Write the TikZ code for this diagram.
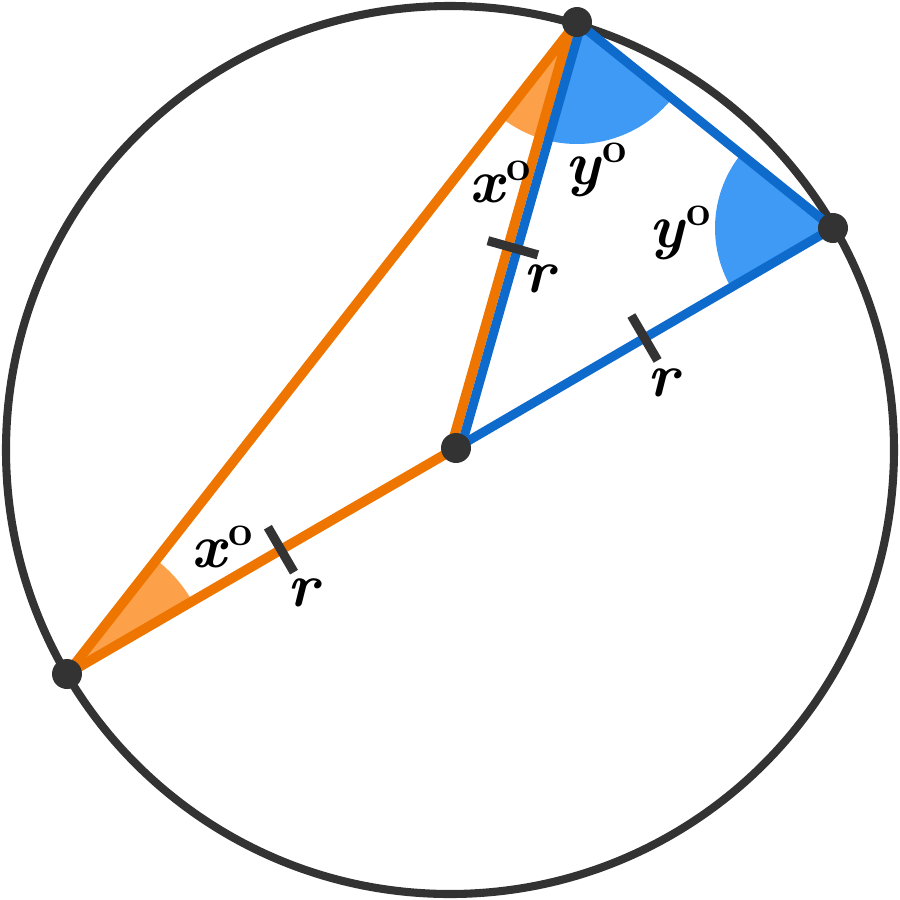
\documentclass[tikz,border=0pt]{standalone}
\usetikzlibrary{calc}
\definecolor{ringgray}{HTML}{333333}
\definecolor{orangeline}{HTML}{EE7600}
\definecolor{orangefill}{HTML}{FCA14A}
\definecolor{blueline}{HTML}{0E6BCB}
\definecolor{bluefill}{HTML}{3E9AF5}
\newcommand{\anglab}[1]{\textbf{\textit{#1}}\textsuperscript{\textbf{o}}}

\begin{document}
\begin{tikzpicture}[
    ring/.style={draw=ringgray, line width=2.3pt},
    oside/.style={draw=orangeline, line width=2.8pt},
    bside/.style={draw=blueline, line width=2.6pt},
    tick/.style={draw=ringgray, line width=2.6pt},
    lab/.style={font=\fontsize{17.5}{20}\selectfont, inner sep=0pt}
  ]
      \useasboundingbox (0,0) rectangle (9,-9);

      % points
      \coordinate (M) at (4.50,-4.50);
      \coordinate (O) at (4.56,-4.48);
      \coordinate (A) at (5.77,-0.22);
      \coordinate (B) at (8.33,-2.28);
      \coordinate (C) at (0.67,-6.74);

      \draw[ring] (M) circle [radius=4.44];

      % angle wedges
      \fill[orangefill] (C) -- ++(30.16:1.45) arc [start angle=30.16, end angle=51.97, radius=1.45] -- cycle;
      \fill[orangefill] (A) -- ++(231.97:1.22) arc [start angle=231.97, end angle=254.14, radius=1.22] -- cycle;
      \fill[bluefill] (A) -- ++(254.14:1.22) arc [start angle=254.14, end angle=321.17, radius=1.22] -- cycle;
      \fill[bluefill] (B) -- ++(141.17:1.18) arc [start angle=141.17, end angle=210.27, radius=1.18] -- cycle;

      % sides
      \draw[oside] (C) -- (A);
      \draw[oside] (C) -- (O);
      \draw[oside] ($(O)+(-0.047,0.013)$) -- ($(A)+(-0.047,0.013)$);
      \draw[bside] ($(O)+(0.045,-0.013)$) -- ($(A)+(0.045,-0.013)$);
      \draw[bside] (A) -- (B) -- (O);

      % equal radii
      \coordinate (t1) at ($(C)!0.55!(O)$);
      \coordinate (t2) at ($(O)!0.47!(A)$);
      \coordinate (t3) at ($(O)!0.50!(B)$);
      \foreach \t/\p in {t1/O, t2/A, t3/B}{
        \draw[tick] ($(\t)!0.26cm!90:(\p)$) -- ($(\t)!0.26cm!-90:(\p)$);
      }

      % points on the circle
      \foreach \p in {O, A, B, C}{
        \fill[ringgray] (\p) circle [radius=0.15];
      }

      \node[lab] (xc) at (2.23,-5.47) {\anglab{x}};
      \node[lab] (rc) at (3.05,-5.93) {\textbf{\textit{r}}};
      \node[lab] (xa) at (5.01,-1.82) {\anglab{x}};
      \node[lab] (ya) at (5.97,-1.70) {\anglab{y}};
      \node[lab] (ra) at (5.41,-2.79) {\textbf{\textit{r}}};
      \node[lab] (yb) at (6.81,-2.33) {\anglab{y}};
      \node[lab] (rb) at (6.65,-3.83) {\textbf{\textit{r}}};
\end{tikzpicture}
\end{document}
